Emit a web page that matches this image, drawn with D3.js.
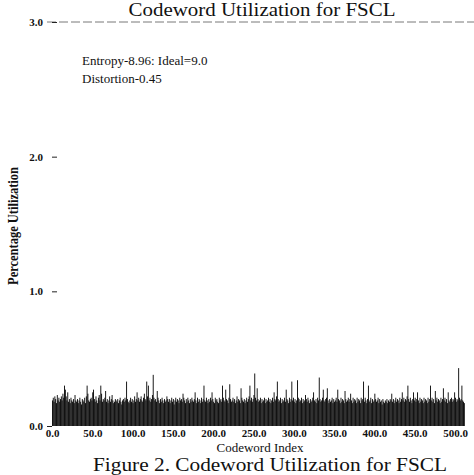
<!DOCTYPE html>
<html lang="en">
<head>
  <meta charset="UTF-8">
  <title>Codeword Utilization for FSCL</title>
  <style>
    body { margin: 0; background: #fff; }
    text { font-family: "Liberation Serif", "DejaVu Serif", serif; fill: #111; }
  </style>
</head>
<body>
  <script src="https://d3js.org/d3.v7.min.js"></script>
  <script>
    const width = 474;
    const height = 475;

    // percentage utilization of each of the 512 codewords
    const utilization = [
      0.19,0.21,0.18,0.22,0.20,0.17,0.23,0.19,0.21,0.18,0.20,0.22,0.19,0.24,0.21,0.30,
      0.27,0.22,0.19,0.25,0.18,0.20,0.17,0.21,0.19,0.18,0.20,0.17,0.23,0.19,0.18,0.20,
      0.17,0.19,0.21,0.18,0.16,0.20,0.19,0.18,0.21,0.17,0.22,0.30,0.24,0.19,0.18,0.20,
      0.21,0.19,0.25,0.27,0.20,0.18,0.22,0.19,0.17,0.21,0.23,0.19,0.30,0.24,0.18,0.20,
      0.19,0.21,0.26,0.18,0.20,0.17,0.19,0.22,0.18,0.20,0.23,0.19,0.17,0.18,0.20,0.19,
      0.18,0.20,0.17,0.19,0.21,0.18,0.16,0.19,0.20,0.18,0.21,0.19,0.33,0.20,0.18,0.17,
      0.19,0.21,0.18,0.20,0.17,0.19,0.22,0.18,0.20,0.25,0.19,0.21,0.18,0.20,0.22,0.19,
      0.18,0.21,0.24,0.20,0.19,0.33,0.22,0.30,0.19,0.21,0.18,0.20,0.23,0.38,0.21,0.19,
      0.20,0.18,0.26,0.21,0.19,0.17,0.20,0.18,0.21,0.19,0.17,0.20,0.18,0.19,0.22,0.20,
      0.18,0.20,0.17,0.19,0.21,0.18,0.20,0.16,0.19,0.21,0.18,0.20,0.19,0.17,0.21,0.19,
      0.20,0.18,0.24,0.21,0.19,0.17,0.20,0.18,0.21,0.19,0.17,0.20,0.18,0.21,0.19,0.18,
      0.20,0.25,0.19,0.17,0.21,0.18,0.20,0.19,0.17,0.21,0.18,0.20,0.30,0.19,0.18,0.21,
      0.19,0.17,0.20,0.18,0.21,0.19,0.25,0.20,0.18,0.17,0.21,0.19,0.20,0.18,0.17,0.21,
      0.19,0.20,0.18,0.30,0.21,0.19,0.18,0.27,0.20,0.19,0.17,0.21,0.31,0.20,0.18,0.19,
      0.21,0.18,0.20,0.17,0.19,0.22,0.18,0.20,0.19,0.17,0.28,0.21,0.19,0.18,0.20,0.17,
      0.19,0.21,0.18,0.20,0.22,0.30,0.19,0.21,0.18,0.20,0.23,0.39,0.21,0.19,0.28,0.20,
      0.18,0.19,0.21,0.17,0.20,0.18,0.19,0.21,0.17,0.20,0.18,0.19,0.21,0.18,0.20,0.17,
      0.19,0.21,0.18,0.25,0.20,0.19,0.22,0.33,0.20,0.18,0.19,0.21,0.17,0.20,0.18,0.19,
      0.21,0.18,0.27,0.20,0.19,0.17,0.21,0.18,0.20,0.33,0.19,0.21,0.18,0.20,0.17,0.19,
      0.34,0.21,0.20,0.18,0.19,0.21,0.17,0.20,0.18,0.19,0.23,0.20,0.18,0.21,0.19,0.17,
      0.20,0.18,0.19,0.21,0.25,0.19,0.18,0.20,0.17,0.21,0.19,0.36,0.20,0.18,0.19,0.21,
      0.27,0.19,0.18,0.20,0.21,0.28,0.19,0.17,0.20,0.18,0.19,0.21,0.17,0.20,0.18,0.19,
      0.21,0.18,0.27,0.20,0.19,0.17,0.21,0.18,0.20,0.19,0.17,0.26,0.20,0.18,0.19,0.21,
      0.18,0.20,0.24,0.19,0.17,0.21,0.18,0.20,0.19,0.17,0.21,0.18,0.20,0.19,0.17,0.21,
      0.19,0.20,0.33,0.18,0.21,0.19,0.17,0.20,0.30,0.18,0.19,0.21,0.17,0.20,0.18,0.19,
      0.24,0.20,0.18,0.19,0.21,0.17,0.20,0.18,0.19,0.16,0.20,0.18,0.17,0.19,0.18,0.20,
      0.17,0.19,0.18,0.20,0.19,0.24,0.18,0.20,0.17,0.19,0.21,0.18,0.20,0.19,0.17,0.21,
      0.18,0.20,0.25,0.19,0.21,0.18,0.20,0.19,0.22,0.30,0.20,0.18,0.21,0.19,0.17,0.20,
      0.25,0.19,0.21,0.18,0.20,0.25,0.19,0.17,0.21,0.18,0.20,0.19,0.17,0.21,0.18,0.20,
      0.19,0.17,0.21,0.18,0.20,0.30,0.19,0.21,0.18,0.20,0.17,0.26,0.19,0.21,0.18,0.20,
      0.19,0.17,0.21,0.18,0.20,0.28,0.19,0.21,0.18,0.20,0.17,0.25,0.19,0.18,0.20,0.21,
      0.18,0.20,0.19,0.25,0.21,0.18,0.20,0.19,0.43,0.21,0.19,0.20,0.30,0.19,0.18,0.17
    ];
    const xTicks = [0, 50, 100, 150, 200, 250, 300, 350, 400, 450, 500];
    const yTicks = [0, 1, 2, 3];
    const notes = ['Entropy-8.96: Ideal=9.0', 'Distortion-0.45'];

    const x = d3.scaleLinear().domain([0, 500]).range([52, 455]);
    const y = d3.scaleLinear().domain([0, 3]).range([426, 22]);

    const svg = d3.select('body')
                  .append('svg')
                  .attr('width', width)
                  .attr('height', height);

    // faint frame line at 3.0
    svg.append('line')
        .attr('x1', 47).attr('x2', 474)
        .attr('y1', y(3)).attr('y2', y(3))
        .attr('stroke', '#555')
        .attr('stroke-width', 0.8)
        .attr('stroke-dasharray', '9,3');

    svg.selectAll('rect.bar')
        .data(utilization)
        .enter()
        .append('rect')
        .attr('class', 'bar')
        .attr('x', (d, i) => x(i))
        .attr('y', d => y(d))
        .attr('width', 0.9)
        .attr('height', d => y(0) - y(d))
        .attr('fill', '#000');

    // y axis: no spine, short inward dashes
    const yAxis = svg.append('g')
        .attr('transform', 'translate(' + 52 + ',0)')
        .call(d3.axisLeft(y).tickValues(yTicks).tickFormat(d3.format('.1f'))
              .tickSizeInner(-5).tickSizeOuter(0).tickPadding(9));
    yAxis.select('.domain').remove();
    yAxis.selectAll('line').attr('stroke', '#222');
    yAxis.selectAll('text')
        .style('font-family', '"Liberation Serif", serif')
        .style('font-size', '11px')
        .style('font-weight', 'bold')
        .attr('fill', '#111');
    yAxis.selectAll('.tick').filter(d => d === 0).select('line')
        .attr('x2', -5);

    // x axis: labels only
    const xAxis = svg.append('g')
        .attr('transform', 'translate(0,' + y(0) + ')')
        .call(d3.axisBottom(x).tickValues(xTicks).tickFormat(d3.format('.1f'))
              .tickSize(0).tickPadding(3));
    xAxis.select('.domain').remove();
    xAxis.selectAll('text')
        .style('font-family', '"Liberation Serif", serif')
        .style('font-size', '11px')
        .style('font-weight', 'bold')
        .attr('fill', '#111');

    svg.append('text')
        .attr('x', 262).attr('y', 16)
        .attr('text-anchor', 'middle')
        .attr('textLength', 267)
        .attr('lengthAdjust', 'spacingAndGlyphs')
        .style('font-size', '18px')
        .text('Codeword Utilization for FSCL');

    svg.selectAll('text.note')
        .data(notes)
        .enter()
        .append('text')
        .attr('class', 'note')
        .attr('x', 82)
        .attr('y', (d, i) => 65 + i * 18)
        .style('font-size', '13px')
        .text(d => d);

    svg.append('text')
        .attr('transform', 'translate(18,226) rotate(-90)')
        .attr('text-anchor', 'middle')
        .attr('textLength', 118)
        .attr('lengthAdjust', 'spacingAndGlyphs')
        .style('font-size', '15px')
        .style('font-weight', 'bold')
        .text('Percentage Utilization');

    svg.append('text')
        .attr('x', 260).attr('y', 452)
        .attr('text-anchor', 'middle')
        .style('font-size', '13px')
        .text('Codeword Index');

    svg.append('text')
        .attr('x', 270).attr('y', 471)
        .attr('text-anchor', 'middle')
        .attr('textLength', 354)
        .attr('lengthAdjust', 'spacingAndGlyphs')
        .style('font-size', '19px')
        .text('Figure 2. Codeword Utilization for FSCL');
  </script>
</body>
</html>
